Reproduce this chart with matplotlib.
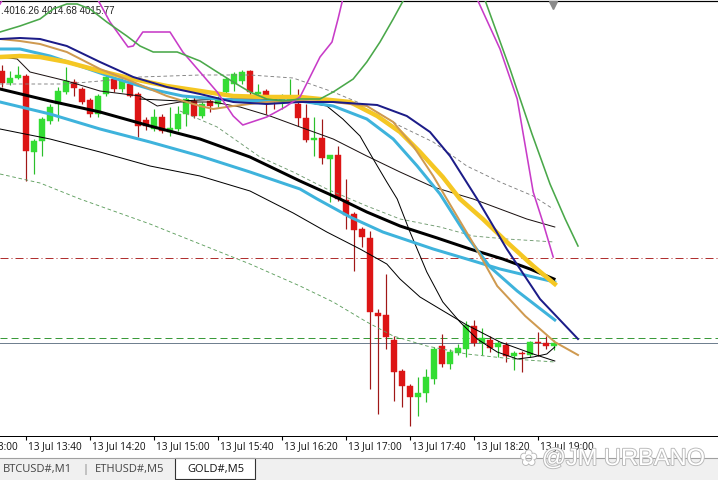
import matplotlib
matplotlib.use("Agg")
import matplotlib.pyplot as plt
import matplotlib.patheffects as pe
from matplotlib.patches import Rectangle

W, H = 718, 481

# candles, 5 min bars, bar 0 = 13 Jul 13:40
bars = list(range(-3, 67))
opens = [4059.28, 4057.36, 4058.16, 4058.48, 4046.32, 4048.08, 4051.28, 4054.00, 4055.92, 4057.52,
         4056.40, 4054.64, 4052.40, 4055.60, 4058.00, 4056.40, 4057.20, 4055.60, 4051.44, 4050.00,
         4051.92, 4049.52, 4050.00, 4052.40, 4054.48, 4052.08, 4054.48, 4054.00, 4055.92, 4057.20,
         4057.68, 4059.28, 4055.60, 4056.08, 4054.96, 4054.64, 4054.32, 4054.00, 4051.76, 4048.24,
         4048.56, 4045.20, 4045.84, 4038.64, 4036.40, 4034.00, 4032.56, 4020.56, 4020.24, 4016.24,
         4011.28, 4008.88, 4007.12, 4007.76, 4010.00, 4015.28, 4012.40, 4014.16, 4014.80, 4018.48,
         4015.76, 4016.24, 4015.12, 4015.44, 4013.68, 4014.16, 4013.84, 4015.92, 4015.76, 4015.28]
highs = [4060.24, 4059.28, 4060.08, 4058.80, 4048.40, 4051.92, 4054.00, 4056.72, 4059.92, 4058.00,
         4056.72, 4054.96, 4055.60, 4058.64, 4058.32, 4058.16, 4057.68, 4055.92, 4051.92, 4053.20,
         4052.40, 4053.52, 4053.68, 4055.12, 4055.12, 4054.32, 4054.80, 4055.28, 4058.32, 4059.12,
         4059.44, 4059.44, 4057.20, 4056.40, 4055.28, 4055.60, 4058.00, 4056.40, 4054.00, 4051.92,
         4051.60, 4045.84, 4047.28, 4042.00, 4036.72, 4034.32, 4033.68, 4021.20, 4026.80, 4016.88,
         4011.60, 4009.20, 4010.32, 4011.60, 4015.12, 4017.20, 4014.80, 4015.60, 4019.28, 4019.44,
         4018.16, 4016.88, 4016.08, 4015.92, 4014.48, 4014.48, 4016.08, 4017.52, 4016.88, 4016.26]
lows = [4056.72, 4057.04, 4058.00, 4041.68, 4042.80, 4045.68, 4050.80, 4051.28, 4055.60, 4055.28,
        4054.00, 4051.92, 4051.92, 4055.28, 4055.92, 4055.92, 4055.12, 4048.72, 4049.84, 4049.68,
        4049.36, 4048.88, 4049.68, 4050.48, 4051.76, 4051.76, 4052.72, 4053.52, 4055.28, 4056.08,
        4057.20, 4055.44, 4055.28, 4052.40, 4053.20, 4053.20, 4054.16, 4050.48, 4047.92, 4045.68,
        4044.40, 4038.32, 4038.48, 4034.00, 4027.28, 4031.12, 4008.40, 4004.40, 4014.80, 4006.48,
        4005.52, 4002.48, 4004.08, 4006.32, 4009.20, 4011.92, 4011.60, 4013.84, 4013.52, 4015.28,
        4013.84, 4014.32, 4013.52, 4012.72, 4011.44, 4011.12, 4013.52, 4013.68, 4014.80, 4014.68]
closes = [4057.36, 4058.16, 4058.64, 4046.48, 4048.08, 4051.60, 4053.52, 4056.08, 4057.68, 4056.56,
          4054.32, 4052.40, 4055.28, 4058.32, 4056.40, 4057.68, 4055.28, 4050.48, 4050.48, 4051.92,
          4049.68, 4050.16, 4052.40, 4054.80, 4052.08, 4054.00, 4053.68, 4054.80, 4058.00, 4058.80,
          4059.12, 4055.92, 4055.92, 4055.44, 4054.64, 4054.96, 4054.80, 4051.76, 4048.24, 4048.56,
          4045.36, 4045.84, 4038.80, 4036.24, 4033.84, 4032.72, 4020.72, 4020.08, 4016.72, 4011.12,
          4008.88, 4007.12, 4007.76, 4010.32, 4014.80, 4012.40, 4014.32, 4014.96, 4018.64, 4015.76,
          4016.56, 4014.96, 4015.76, 4013.68, 4014.16, 4014.00, 4015.92, 4015.76, 4015.28, 4015.77]

# indicator lines (bar index, price)
navy_x = [-3.25, -0.75, 1.75, 5.1, 9.25, 13.4, 17.6, 21.75, 25.9, 30.1, 34.25, 38.4, 43.9, 47.6, 50.5, 53, 56.4, 60.1, 64.25, 69]
navy_y = [4064.4, 4064.56, 4064.4, 4063.28, 4060.72, 4058.32, 4056.72, 4055.6, 4054.32, 4054.0, 4054.32, 4054.32,
          4053.84, 4052.08, 4049.52, 4045.68, 4038.8, 4030.8, 4022.8, 4016.4]
tan_x = [-3.25, -0.75, 1.75, 5.1, 9.25, 13.4, 17.6, 21.75, 23.4, 25.9, 30.1, 34.25, 38.4, 42.6, 45.9, 48.4,
         50.9, 52.6, 56.1, 58.9, 62.4, 66.1, 69]
tan_y = [4064.4, 4064.08, 4063.6, 4062.32, 4059.6, 4057.52, 4055.28, 4053.68, 4053.2, 4053.68, 4054.32, 4054.48,
         4054.32, 4053.68, 4051.12, 4047.28, 4042.48, 4038.8, 4031.28, 4024.88, 4020.08, 4015.92, 4013.84]
gold_x = [-3.25, -0.75, 1.75, 5.1, 9.25, 13.4, 17.6, 21.75, 25.9, 30.1, 34.25, 36.75, 40.5, 43.9, 46.75,
          49.25, 52.1, 54.25, 57.1, 60.1, 63.4, 66.1]
gold_y = [4061.52, 4061.68, 4061.52, 4060.72, 4059.28, 4058.0, 4056.88, 4056.08, 4055.28, 4055.12, 4055.12,
          4054.8, 4054.32, 4052.08, 4049.52, 4046.32, 4042.32, 4038.8, 4035.6, 4031.92, 4028.08, 4025.2]
sky1_x = [-3.25, -0.75, 3, 7.1, 11.4, 15.5, 19.6, 23.9, 28, 34.25, 38.4, 42.6, 45.9, 48.9, 51.75, 55.1, 58, 61.4, 66.1]
sky1_y = [4062.8, 4062.8, 4061.68, 4059.92, 4058.0, 4056.4, 4055.28, 4054.8, 4054.48, 4054.48, 4053.68, 4051.6,
          4048.4, 4044.08, 4039.6, 4032.88, 4027.92, 4024.08, 4019.44]
sky2_x = [-3.25, 3, 9.25, 15.5, 21.75, 28, 34.25, 36.4, 40.5, 44.6, 50.9, 55.1, 59.25, 63.4, 66.1]
sky2_y = [4054.32, 4052.4, 4050.0, 4047.92, 4045.68, 4043.12, 4040.4, 4038.8, 4035.92, 4033.52, 4030.8, 4029.2,
          4027.6, 4026.32, 4025.52]
blk_x = [-3.25, 3, 9.25, 15.5, 21.75, 28, 34.25, 39.25, 42.6, 46.75, 51.4, 55.5, 59.6, 63, 66]
blk_y = [4056.4, 4054.48, 4052.72, 4050.48, 4048.4, 4045.52, 4041.68, 4038.8, 4036.72, 4034.48, 4032.56, 4030.8,
         4029.2, 4027.6, 4026.0]
fast_x = [14.25, 19.25, 24.25, 29.25, 34.25, 37.6, 39.6, 41.75, 43.4, 45.1, 46.4, 48, 50.1, 52.1, 54.25, 56.4,
          58.9, 61.4, 63.4, 65.1, 66.1]
fast_y = [4054.8, 4054.48, 4054.8, 4054.8, 4054.48, 4053.68, 4051.6, 4048.88, 4045.2, 4041.52, 4038.8, 4033.52,
          4027.12, 4022.32, 4019.12, 4016.4, 4014.32, 4013.2, 4013.52, 4014.0, 4015.12]
mid_x = [-3.25, 3, 9.25, 15.5, 21.75, 28, 33.4, 37.6, 41.75, 45.1, 46.75, 49.25, 51.75, 55.1, 59.25, 63.4, 66.1]
mid_y = [4050.0, 4048.4, 4046.32, 4044.08, 4042.48, 4040.08, 4036.56, 4033.52, 4030.8, 4028.4, 4026.0, 4023.12,
         4021.2, 4018.64, 4015.92, 4014.0, 4012.88]
slow_x = [-3.25, -1.1, 0.5, 5.1, 9.25, 14.25, 16.4, 19.25, 23.4, 26.75, 30.5, 34.25, 38.4, 42.6, 46.75, 50.9,
          55.9, 59.25, 62.6, 66.1]
slow_y = [4061.52, 4061.2, 4059.12, 4057.68, 4056.08, 4055.28, 4053.68, 4054.32, 4054.32, 4053.52, 4052.08,
          4050.32, 4048.4, 4045.68, 4043.12, 4040.72, 4038.8, 4037.2, 4035.6, 4034.32]
up_x = [-3.25, 4.9, 9.25, 14.25, 21.75, 28, 33.4, 38.4, 42.6, 46.75, 50.9, 55.1, 59.25, 63.4, 65.9]
up_y = [4057.2, 4057.2, 4057.68, 4058.32, 4058.64, 4058.64, 4058.16, 4055.92, 4053.68, 4050.48, 4047.92,
        4044.08, 4041.52, 4039.28, 4037.2]
band2_x = [19.25, 23.9, 29.25, 33.4, 37.6, 42.6, 46.75, 51.75, 55.9, 60.1, 66.1]
band2_y = [4052.88, 4050.32, 4045.52, 4043.12, 4040.4, 4037.68, 4035.6, 4034.32, 4032.88, 4032.4, 4031.92]
low_x = [-3.25, 1.75, 6.75, 15.5, 21.75, 28, 34.25, 38.4, 42.6, 45.9, 50.1, 55.1, 60.9, 66.1]
low_y = [4042.8, 4041.36, 4038.8, 4034.8, 4031.6, 4028.4, 4024.88, 4022.32, 4019.12, 4016.88, 4015.28, 4014.0,
         4013.2, 4012.72]
mag_x = [-3.25, -2.25, 8.25, 10.5, 12.75, 13.4, 14.6, 15.9, 18, 19.6, 21.75, 23.9, 25.9, 27.1, 30.1, 32.4,
         34.25, 35.5, 36.75, 38.25, 39, 39.75, 44, 52, 56.1, 59.25, 61.4, 63.4, 64.6, 65.9]
mag_y = [4070.0, 4072.4, 4072.4, 4067.12, 4063.12, 4063.28, 4065.52, 4065.52, 4065.52, 4062.32, 4059.12,
         4055.92, 4052.08, 4050.64, 4051.92, 4053.52, 4055.12, 4058.32, 4061.52, 4063.92, 4067.6, 4071.6,
         4094.8, 4094.8, 4071.6, 4062.8, 4054.8, 4039.92, 4035.12, 4029.52]
grn_x = [-3.25, -0.75, 1.75, 3.4, 5.1, 6.4, 8, 10.1, 12.6, 14.25, 15.9, 18.9, 21.75, 23.9, 25.9, 28, 30.1,
         32.1, 34.25, 36.75, 38.4, 40.9, 42.6, 44.25, 45.9, 47.4, 51.75, 57.1, 60.5, 63.25, 65.5, 67.4, 69]
grn_y = [4065.52, 4066.48, 4067.6, 4069.2, 4070.0, 4070.0, 4069.2, 4067.12, 4064.88, 4063.28, 4062.32,
         4062.32, 4060.88, 4059.12, 4057.52, 4055.92, 4054.8, 4054.48, 4054.8, 4054.8, 4055.92, 4058.0,
         4060.72, 4063.92, 4067.6, 4071.12, 4094.8, 4071.6, 4059.6, 4049.2, 4041.2, 4035.6, 4031.28]

green_level = 4016.56
bid_level = 4015.77
red_level = 4029.36

tick_bars = [-8, 0, 8, 16, 24, 32, 40, 48, 56, 64]
tick_labels = ["13 Jul 13:00", "13 Jul 13:40", "13 Jul 14:20", "13 Jul 15:00", "13 Jul 15:40",
               "13 Jul 16:20", "13 Jul 17:00", "13 Jul 17:40", "13 Jul 18:20", "13 Jul 19:00"]
header = "4016.26 4014.68 4015.77"
tabs = ["BTCUSD#,M1", "ETHUSD#,M5", "GOLD#,M5"]

PX = 0.72  # one pixel in points at dpi 100
UI = ["Open Sans", "DejaVu Sans"]

fig = plt.figure(figsize=(W / 100, H / 100), dpi=100)
fig.patch.set_facecolor("white")
ax = fig.add_axes([0, 1 - 437 / H, 1, 435 / H])
ax.set_facecolor("white")

# horizontal levels
ax.axhline(red_level, color="#b03030", lw=1 * PX, ls=(0, (8, 3, 1, 3)), zorder=1)
ax.axhline(green_level, color="#3a9a3a", lw=1 * PX, ls=(0, (7, 4)), zorder=1)
ax.axhline(bid_level, color="#708090", lw=1 * PX, zorder=1)

# candles
for b, o, h, l, c in zip(bars, opens, highs, lows, closes):
    bull = c >= o
    body_col = "#33dd33" if bull else "#dd1515"
    wick_col = "#2bbf2b" if bull else "#a01818"
    ax.vlines(b, l, h, color=wick_col, lw=1.2 * PX, zorder=2)
    lo = min(o, c)
    hgt = max(abs(c - o), 0.22)
    ax.bar(b, hgt, bottom=lo, width=0.72, color=body_col, edgecolor=body_col, lw=0.3, zorder=3)

# dashed bands
ax.plot(up_x, up_y, color="#808080", lw=0.9 * PX, ls=(0, (4, 3)), zorder=4)
ax.plot(band2_x, band2_y, color="#6f9a6f", lw=0.9 * PX, ls=(0, (4, 3)), zorder=4)
ax.plot(low_x, low_y, color="#5f9f5f", lw=0.9 * PX, ls=(0, (4, 3)), zorder=4)

# thin lines
ax.plot(mid_x, mid_y, color="black", lw=1 * PX, zorder=5)
ax.plot(slow_x, slow_y, color="#1a1010", lw=1 * PX, zorder=5)
ax.plot(fast_x, fast_y, color="black", lw=1 * PX, zorder=5)

# thick moving averages
ax.plot(sky2_x, sky2_y, color="#3eb3dc", lw=3 * PX, zorder=6)
ax.plot(blk_x, blk_y, color="black", lw=3 * PX, zorder=6)
ax.plot(sky1_x, sky1_y, color="#3eb3dc", lw=3 * PX, zorder=6)
ax.plot(gold_x, gold_y, color="#f5c723", lw=4.5 * PX, zorder=7)
ax.plot(tan_x, tan_y, color="#cf9a50", lw=2 * PX, zorder=7)
ax.plot(navy_x, navy_y, color="#1c1c88", lw=2 * PX, zorder=8)

ax.plot(mag_x, mag_y, color="#c83cc8", lw=1.6 * PX, zorder=8)
ax.plot(grn_x, grn_y, color="#4aa84a", lw=1.6 * PX, zorder=8)

for s in ["left", "right"]:
    ax.spines[s].set_visible(False)
ax.spines["top"].set_linewidth(1.2 * PX)
ax.spines["bottom"].set_linewidth(1 * PX)
ax.set_yticks([])
ax.set_xticks(tick_bars)
ax.set_xticklabels([])
ax.tick_params(axis="x", direction="out", length=3, width=0.8, color="black")
# limits after ticks, so the off-screen 13:00 tick does not widen the view
ax.set_xlim(-3.25, 86.5)
ax.set_ylim(4000.88, 4070.48)

# chart shift marker
ax.plot([65.9], [4069.9], marker="v", ms=6, color="#8a8a8a", zorder=9, clip_on=False)

for b, lab in zip(tick_bars, tick_labels):
    ax.text(b + 0.2, -0.021, lab, transform=ax.get_xaxis_transform(), ha="left", va="center",
            fontsize=7.2, family=UI, color="#111111", clip_on=False)

ax.text(-3.25, 4069.0, ".", ha="left", va="center", fontsize=7.2, family=UI, color="#222222", zorder=3)
ax.text(-2.7, 4069.0, header, ha="left", va="center", fontsize=7.0,
        family=["Liberation Sans", "DejaVu Sans"], color="#222222", zorder=3)

# tab bar
tb = fig.add_axes([0, 0, 1, 1], facecolor="none")
tb.set_xlim(0, W)
tb.set_ylim(H, 0)
tb.axis("off")
tb.add_patch(Rectangle((0, 459), W, 22, facecolor="#f0f0f0", edgecolor="none"))
tb.plot([0, W], [459, 459], color="#a0a0a0", lw=0.8)
tb.add_patch(Rectangle((175, 458.5), 80, 21, facecolor="white", edgecolor="#333333", lw=0.8))
tb.text(3, 470, tabs[0], fontsize=8, family=UI, color="#444444", va="center")
tb.text(82, 470, "|", fontsize=8, family=UI, color="#777777", va="center")
tb.text(95, 470, tabs[1], fontsize=8, family=UI, color="#444444", va="center")
tb.text(187, 470, tabs[2], fontsize=8, family=UI, color="#111111", va="center")

# watermark
tb.text(520, 460, "\u273f", fontsize=15, color="white", va="center", ha="left", family="DejaVu Sans",
        path_effects=[pe.withStroke(linewidth=1.3, foreground="#b8b8b8")])
tb.text(542, 460, "@JM URBANO", fontsize=17, family="Liberation Sans", color="white", va="center",
        ha="left", path_effects=[pe.withStroke(linewidth=1.3, foreground="#b8b8b8")])

fig.savefig("out.png", dpi=100)
